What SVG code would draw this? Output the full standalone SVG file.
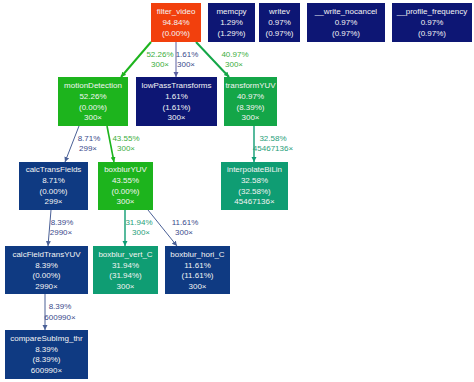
<svg xmlns="http://www.w3.org/2000/svg" width="474" height="382" viewBox="0 0 474 382">
<style>
text{font-family:"Liberation Sans",Arial,sans-serif;font-size:8px;text-anchor:middle}
.n text{fill:#f4f4f4}
.red{fill:#f2400d}
.navy{fill:#0d1674}
.blue{fill:#0f3a82}
.gA{fill:#1db41d}
.gB{fill:#14a648}
.teal{fill:#0f9d73}
.e path{fill:none}
.lg{fill:#3cae3c}
.lb{fill:#3a4a8c}
.lt{fill:#1fa07a}
</style>
<defs>
<marker id="mA" markerWidth="6" markerHeight="6" refX="5" refY="3" orient="auto" markerUnits="userSpaceOnUse"><path d="M0,0.5L5,3L0,5.5z" fill="#1db41d"/></marker>
<marker id="mB" markerWidth="6" markerHeight="6" refX="5" refY="3" orient="auto" markerUnits="userSpaceOnUse"><path d="M0,0.5L5,3L0,5.5z" fill="#14a648"/></marker>
<marker id="mN" markerWidth="6" markerHeight="6" refX="5" refY="3" orient="auto" markerUnits="userSpaceOnUse"><path d="M0,0.5L5,3L0,5.5z" fill="#5a5fa0"/></marker>
<marker id="mL" markerWidth="6" markerHeight="6" refX="5" refY="3" orient="auto" markerUnits="userSpaceOnUse"><path d="M0,0.5L5,3L0,5.5z" fill="#4a6096"/></marker>
<marker id="mT" markerWidth="6" markerHeight="6" refX="5" refY="3" orient="auto" markerUnits="userSpaceOnUse"><path d="M0,0.5L5,3L0,5.5z" fill="#0f9d73"/></marker>
</defs>
<rect width="474" height="382" fill="#ffffff"/>
<g id="edges" class="e">
<path d="M151,42L121,77" stroke="#1db41d" stroke-width="2" marker-end="url(#mA)"/>
<path d="M176,42L176,77" stroke="#5a5fa0" stroke-width="1" marker-end="url(#mN)"/>
<path d="M196,42L229,77" stroke="#14a648" stroke-width="2" marker-end="url(#mB)"/>
<path d="M79,126L65,162" stroke="#4a6096" stroke-width="1" marker-end="url(#mL)"/>
<path d="M107,126L114,162" stroke="#1db41d" stroke-width="1.6" marker-end="url(#mA)"/>
<path d="M254,126L254,162" stroke="#0f9d73" stroke-width="1.4" marker-end="url(#mT)"/>
<path d="M51,210L48,246" stroke="#4a6096" stroke-width="1" marker-end="url(#mL)"/>
<path d="M125,210L125,246" stroke="#0f9d73" stroke-width="1.4" marker-end="url(#mT)"/>
<path d="M148,210L177,246" stroke="#4a6096" stroke-width="1" marker-end="url(#mL)"/>
<path d="M45,294L45,330" stroke="#4a6096" stroke-width="1" marker-end="url(#mL)"/>
<text class="lg" x="160" y="57">52.26%</text><text class="lg" x="160" y="67">300×</text>
<text class="lb" x="187" y="57">1.61%</text><text class="lb" x="186" y="67">300×</text>
<text class="lg" x="235" y="57">40.97%</text><text class="lg" x="234" y="67">300×</text>
<text class="lb" x="89" y="141">8.71%</text><text class="lb" x="88" y="151">299×</text>
<text class="lg" x="126" y="141">43.55%</text><text class="lg" x="126" y="151">300×</text>
<text class="lt" x="273" y="141">32.58%</text><text class="lt" x="273" y="151">45467136×</text>
<text class="lb" x="62" y="225">8.39%</text><text class="lb" x="61" y="235">2990×</text>
<text class="lt" x="139" y="225">31.94%</text><text class="lt" x="141" y="235">300×</text>
<text class="lb" x="185" y="225">11.61%</text><text class="lb" x="184" y="235">300×</text>
<text class="lb" x="60" y="309">8.39%</text><text class="lb" x="60" y="320">600990×</text>
</g>
<g id="filter_video" class="n"><rect class="red" x="151" y="3" width="50" height="39"/><text x="176" y="14">filter_video</text><text x="176" y="25">94.84%</text><text x="176" y="36">(0.00%)</text></g>
<g id="memcpy" class="n"><rect class="navy" x="208" y="3" width="47" height="39"/><text x="231.5" y="14">memcpy</text><text x="231.5" y="25">1.29%</text><text x="231.5" y="36">(1.29%)</text></g>
<g id="writev" class="n"><rect class="navy" x="259" y="3" width="41" height="39"/><text x="279.5" y="14">writev</text><text x="279.5" y="25">0.97%</text><text x="279.5" y="36">(0.97%)</text></g>
<g id="write_nocancel" class="n"><rect class="navy" x="307" y="3" width="78" height="39"/><text x="346" y="14">__write_nocancel</text><text x="346" y="25">0.97%</text><text x="346" y="36">(0.97%)</text></g>
<g id="profile_frequency" class="n"><rect class="navy" x="392" y="3" width="80" height="39"/><text x="432" y="14">__profile_frequency</text><text x="432" y="25">0.97%</text><text x="432" y="36">(0.97%)</text></g>
<g id="motionDetection" class="n"><rect class="gA" x="58" y="77" width="70" height="49"/><text x="93" y="88">motionDetection</text><text x="93" y="99">52.26%</text><text x="93" y="110">(0.00%)</text><text x="93" y="120">300×</text></g>
<g id="lowPassTransforms" class="n"><rect class="navy" x="136" y="77" width="81" height="49"/><text x="176.5" y="88">lowPassTransforms</text><text x="176.5" y="99">1.61%</text><text x="176.5" y="110">(1.61%)</text><text x="176.5" y="120">300×</text></g>
<g id="transformYUV" class="n"><rect class="gB" x="224" y="77" width="53" height="49"/><text x="250.5" y="88">transformYUV</text><text x="250.5" y="99">40.97%</text><text x="250.5" y="110">(8.39%)</text><text x="250.5" y="120">300×</text></g>
<g id="calcTransFields" class="n"><rect class="blue" x="19" y="162" width="69" height="48"/><text x="53.5" y="172">calcTransFields</text><text x="53.5" y="183">8.71%</text><text x="53.5" y="194">(0.00%)</text><text x="53.5" y="204">299×</text></g>
<g id="boxblurYUV" class="n"><rect class="gA" x="98" y="162" width="55" height="48"/><text x="125.5" y="172">boxblurYUV</text><text x="125.5" y="183">43.55%</text><text x="125.5" y="194">(0.00%)</text><text x="125.5" y="204">300×</text></g>
<g id="interpolateBiLin" class="n"><rect class="teal" x="221" y="162" width="67" height="48"/><text x="254.5" y="172">interpolateBiLin</text><text x="254.5" y="183">32.58%</text><text x="254.5" y="194">(32.58%)</text><text x="254.5" y="204">45467136×</text></g>
<g id="calcFieldTransYUV" class="n"><rect class="blue" x="5" y="246" width="83" height="48"/><text x="46.5" y="257">calcFieldTransYUV</text><text x="46.5" y="268">8.39%</text><text x="46.5" y="278">(0.00%)</text><text x="46.5" y="289">2990×</text></g>
<g id="boxblur_vert_C" class="n"><rect class="teal" x="93" y="246" width="65" height="48"/><text x="125.5" y="257">boxblur_vert_C</text><text x="125.5" y="268">31.94%</text><text x="125.5" y="278">(31.94%)</text><text x="125.5" y="289">300×</text></g>
<g id="boxblur_hori_C" class="n"><rect class="blue" x="165" y="246" width="65" height="48"/><text x="197.5" y="257">boxblur_hori_C</text><text x="197.5" y="268">11.61%</text><text x="197.5" y="278">(11.61%)</text><text x="197.5" y="289">300×</text></g>
<g id="compareSubImg_thr" class="n"><rect class="blue" x="5" y="330" width="83" height="49"/><text x="46.5" y="341">compareSubImg_thr</text><text x="46.5" y="352">8.39%</text><text x="46.5" y="362">(8.39%)</text><text x="46.5" y="373">600990×</text></g>
</svg>
